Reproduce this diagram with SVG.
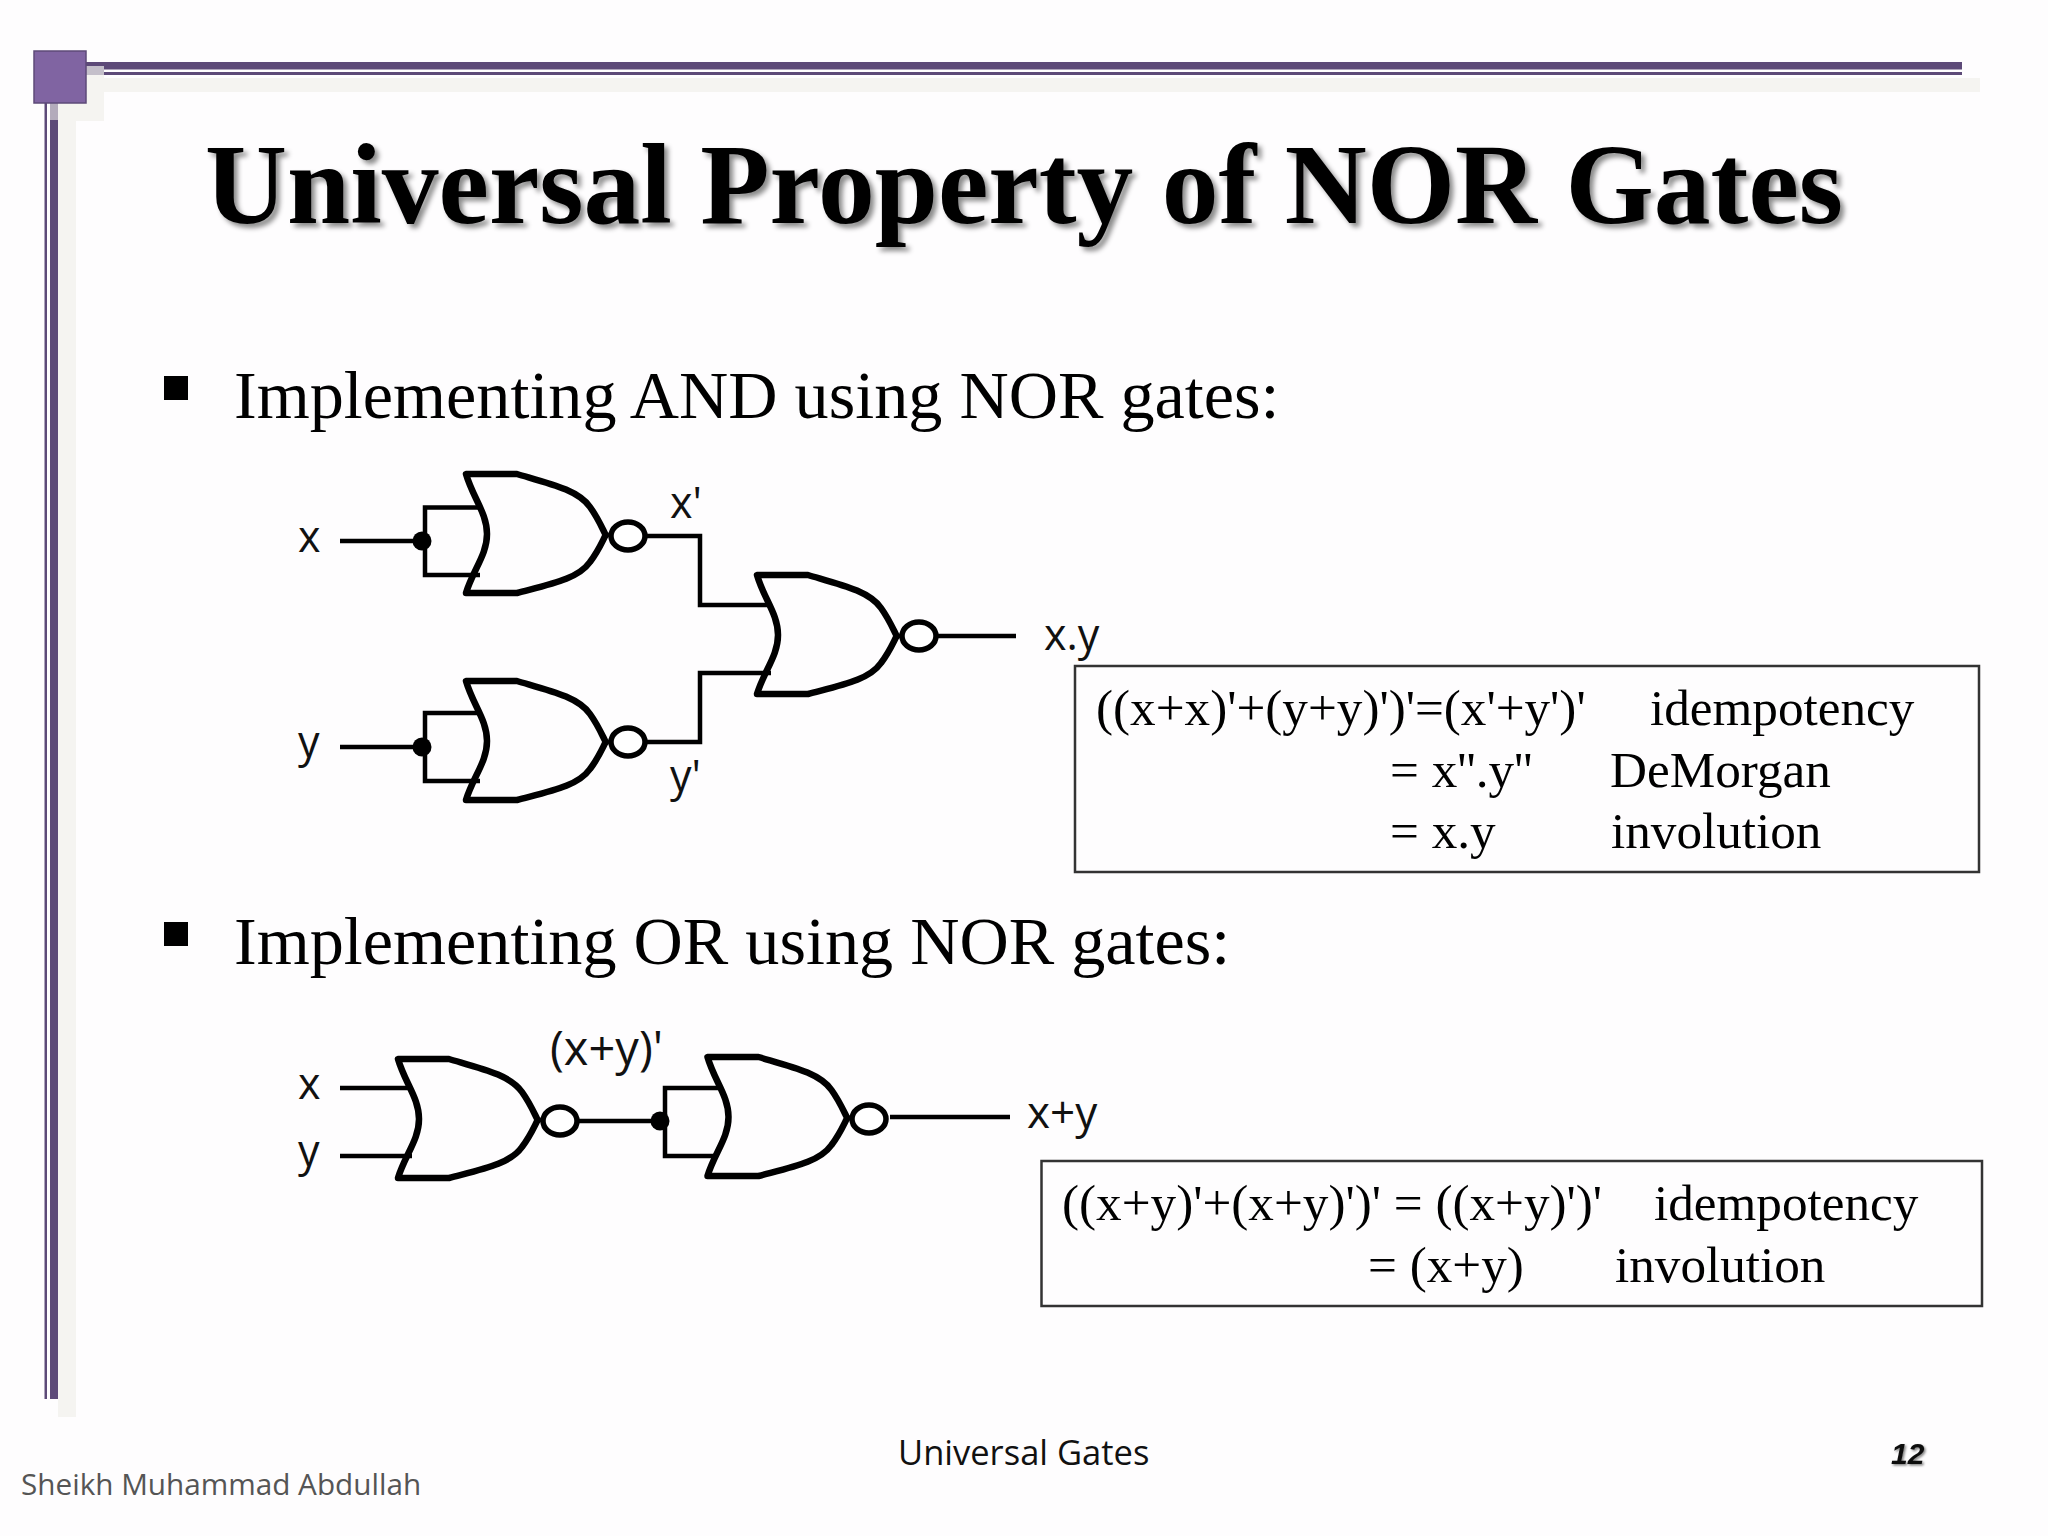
<svg xmlns="http://www.w3.org/2000/svg" width="2048" height="1536" viewBox="0 0 2048 1536">
<defs>
<filter id="ts" x="-5%" y="-20%" width="110%" height="140%"><feDropShadow dx="4" dy="4" stdDeviation="2.5" flood-color="#000" flood-opacity="0.45"/></filter>
<filter id="ns" x="-20%" y="-20%" width="150%" height="150%"><feDropShadow dx="1.5" dy="1.5" stdDeviation="1" flood-color="#000" flood-opacity="0.5"/></filter>
<path id="nor" d="M466 474 H517 C551 484 578 490 590 507 C600 521 605 535 606 535 C605 535 600 549 590 562 C578 579 551 584 517 593 H466 C473 570 487 555 487 534 C487 513 473 498 466 474 Z"/>
</defs>
<style>
.serif{font-family:"Liberation Serif","Times New Roman",serif;fill:#000}
.sans{font-family:"Open Sans","Noto Sans",sans-serif;fill:#111}
.gate{fill:none;stroke:#000;stroke-width:6.5;stroke-linejoin:round}
.bub{fill:#fff;stroke:#000;stroke-width:5.5}
.wire{fill:none;stroke:#000;stroke-width:4.5}
.box{fill:none;stroke:#333;stroke-width:2.5}
.lbl{font-size:43px}
.eq{font-size:51.2px}
.bul{font-size:68.2px}
.pur{fill:#5d4a78}
.shad{fill:#f5f4f1}
</style>
<rect width="2048" height="1536" fill="#fefdfe"/>
<g id="frame">
<rect class="shad" x="86" y="78" width="1894" height="14"/>
<rect class="shad" x="58" y="103" width="46" height="18"/>
<rect class="shad" x="86" y="66" width="18" height="37"/>
<rect class="shad" x="58" y="120" width="18" height="1297"/>
<rect class="pur" x="86" y="62" width="1876" height="7.5"/>
<rect class="pur" x="86" y="72" width="1876" height="3"/>
<rect class="pur" x="44.5" y="103" width="2.5" height="1296"/>
<rect class="pur" x="50" y="120" width="8" height="1279"/>
<rect x="50" y="103" width="8" height="17" fill="#b3abbb"/>
<rect x="86" y="66" width="18" height="9" fill="#c4bfca"/>
<rect x="34" y="51" width="52" height="52" fill="#8064a2" stroke="#5d4a78" stroke-width="1.5"/>
</g>
<text id="title" class="serif" x="205" y="223" font-size="115" font-weight="700" textLength="1638" lengthAdjust="spacingAndGlyphs" filter="url(#ts)">Universal Property of NOR Gates</text>
<g id="bullet1"><rect x="164" y="376" width="24" height="24" fill="#000"/><text class="serif bul" x="234" y="418">Implementing AND using NOR gates:</text></g>
<g id="bullet2"><rect x="164" y="922" width="24" height="24" fill="#000"/><text class="serif bul" x="234" y="964">Implementing OR using NOR gates:</text></g>
<g id="connectors">
<path class="wire" d="M340 541 H425 M478 507.5 H425 V575 H480"/>
<path class="wire" d="M340 747 H425 M478 713 H425 V781 H480"/>
<path class="wire" d="M647 536 H700 V605 H770"/>
<path class="wire" d="M647 742 H700 V673 H771"/>
<path class="wire" d="M938 636 H1016"/>
<path class="wire" d="M340 1088 H410 M340 1156 H412"/>
<path class="wire" d="M579 1121 H665 M718 1088 H665 V1156 H717"/>
<path class="wire" d="M890 1117 H1010"/>
<circle cx="422" cy="541" r="9.5"/><circle cx="422" cy="747" r="9.5"/><circle cx="660" cy="1121" r="9.5"/>
</g>
<g id="gate1"><use href="#nor" class="gate"/><ellipse class="bub" cx="628" cy="536" rx="17" ry="14"/></g>
<g id="gate2"><use href="#nor" class="gate" y="207"/><ellipse class="bub" cx="628" cy="742" rx="17" ry="14"/></g>
<g id="gate3"><use href="#nor" class="gate" x="291" y="101"/><ellipse class="bub" cx="919" cy="636" rx="17" ry="14"/></g>
<g id="gate4"><use href="#nor" class="gate" x="-68" y="585"/><ellipse class="bub" cx="560" cy="1121" rx="17" ry="14"/></g>
<g id="gate5"><use href="#nor" class="gate" x="241.5" y="583"/><ellipse class="bub" cx="869" cy="1119" rx="17" ry="14"/></g>
<g id="labels">
<text class="sans lbl" x="298" y="552">x</text>
<text class="sans lbl" x="298" y="757">y</text>
<text class="sans lbl" x="670" y="518">x'</text>
<text class="sans lbl" x="670" y="791">y'</text>
<text class="sans lbl" x="1044" y="650">x.y</text>
<text class="sans lbl" x="298" y="1099">x</text>
<text class="sans lbl" x="298" y="1166">y</text>
<text class="sans" font-size="47" x="550" y="1065">(x+y)'</text>
<text class="sans" font-size="44" x="1027" y="1128">x+y</text>
</g>
<g id="box1"><rect class="box" x="1075" y="666" width="904" height="206"/>
<text class="serif eq" x="1096" y="725">((x+x)'+(y+y)')'=(x'+y')'</text><text class="serif eq" x="1650" y="725">idempotency</text>
<text class="serif eq" x="1390" y="787">= x''.y''</text><text class="serif eq" x="1610" y="787">DeMorgan</text>
<text class="serif eq" x="1390" y="848">= x.y</text><text class="serif eq" x="1611" y="848">involution</text></g>
<g id="box2"><rect class="box" x="1041.5" y="1161" width="940.5" height="145"/>
<text class="serif eq" x="1062" y="1220">((x+y)'+(x+y)')' = ((x+y)')'</text><text class="serif eq" x="1654" y="1220">idempotency</text>
<text class="serif eq" x="1368" y="1282">= (x+y)</text><text class="serif eq" x="1615" y="1282">involution</text></g>
<g id="footer">
<text class="sans" x="898" y="1465" font-size="34.5" fill="#222">Universal Gates</text>
<text x="1891" y="1464" font-size="30" font-weight="700" font-style="italic" font-family="Liberation Sans,sans-serif" fill="#111" filter="url(#ns)">12</text>
<text class="sans" x="21" y="1495" font-size="29.7" style="fill:#555">Sheikh Muhammad Abdullah</text>
</g>
</svg>
